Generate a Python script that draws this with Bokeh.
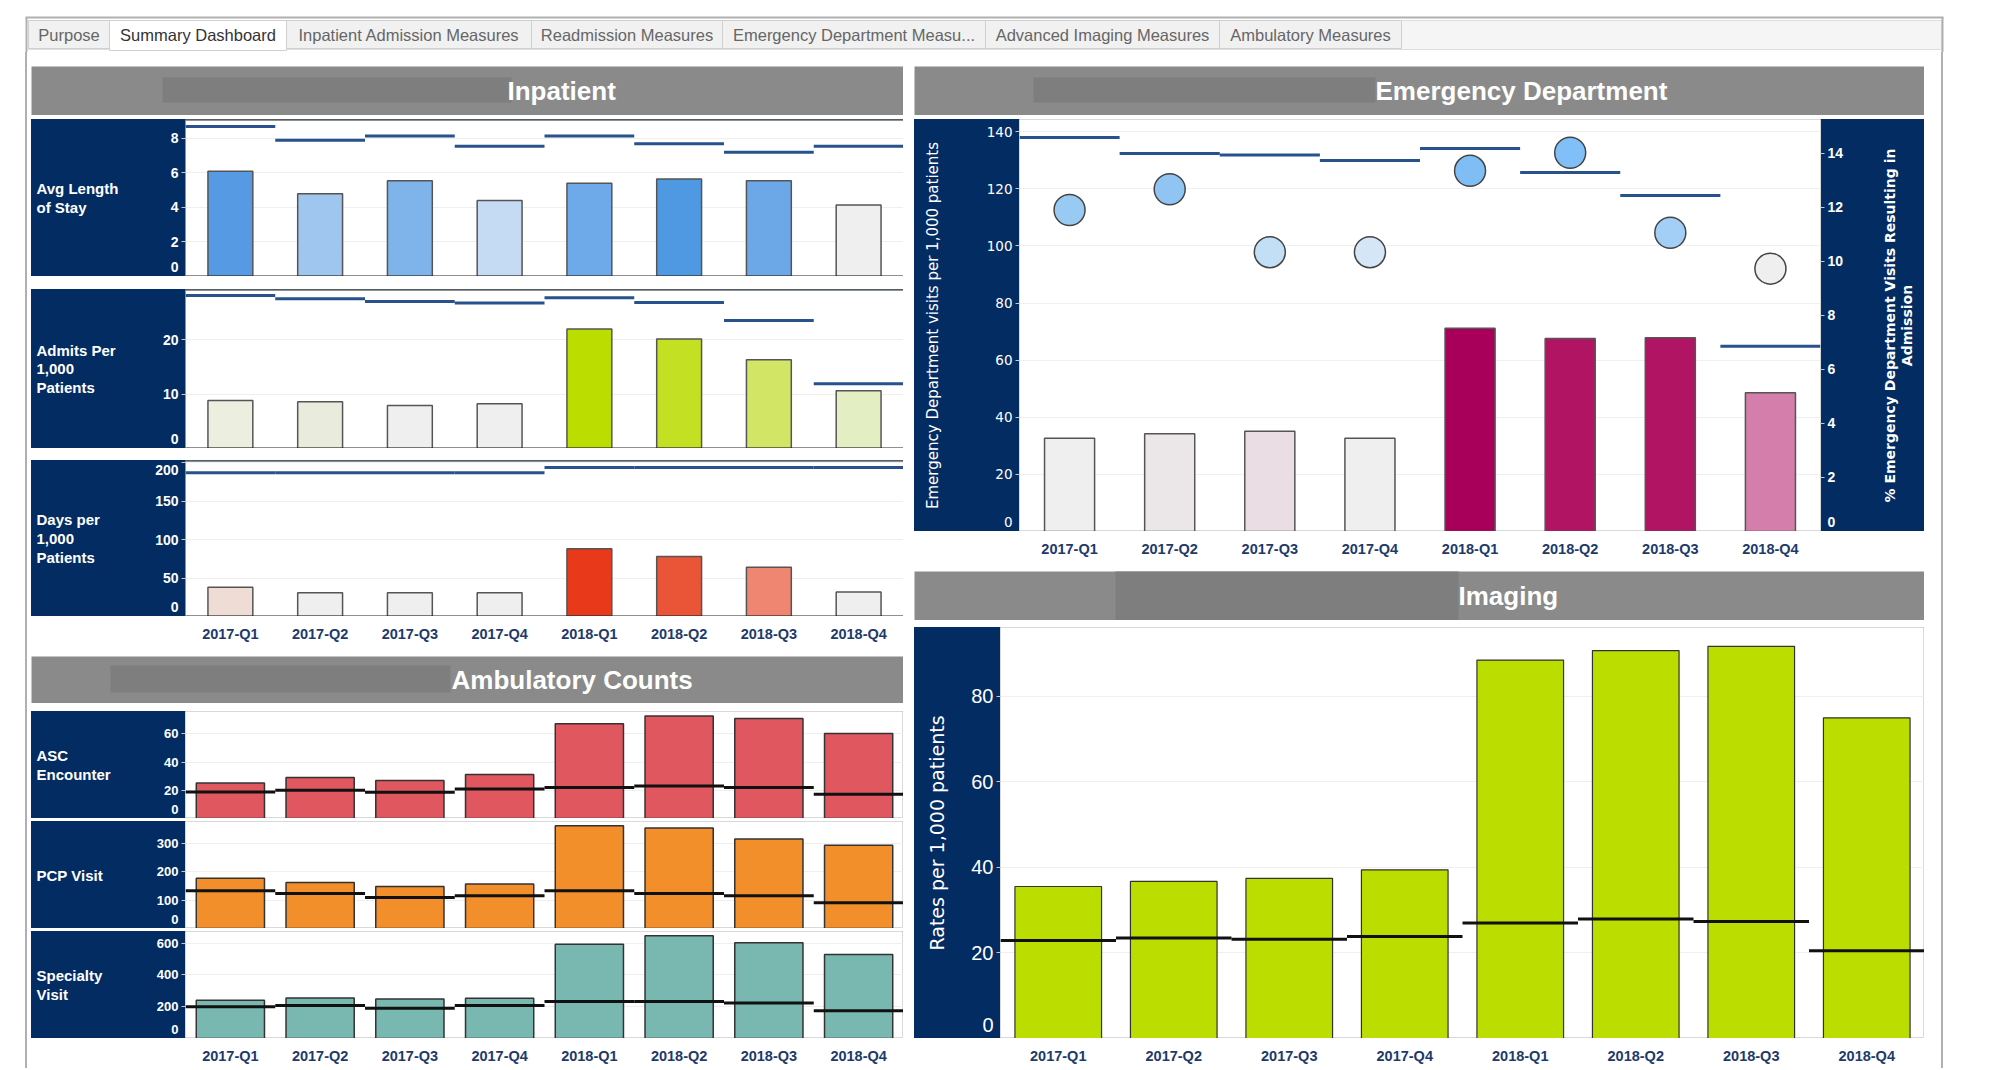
import math
from bokeh.plotting import figure
from bokeh.models import Range1d, FactorRange, LinearAxis, FixedTicker, Spacer, Span, Plot
from bokeh.layouts import column, row
from bokeh.core.properties import value
from bokeh.embed import file_html
from bokeh.resources import INLINE

# ---------------- data ----------------
QUARTERS = ["2017-Q1", "2017-Q2", "2017-Q3", "2017-Q4", "2018-Q1", "2018-Q2", "2018-Q3", "2018-Q4"]

TABS = ["Purpose", "Summary Dashboard", "Inpatient Admission Measures", "Readmission Measures",
        "Emergency Department Measu...", "Advanced Imaging Measures", "Ambulatory Measures"]
ACTIVE_TAB = 1

# Inpatient
ALOS = [6.1, 4.8, 5.55, 4.4, 5.4, 5.65, 5.55, 4.15]
ALOS_REF = [8.7, 7.9, 8.15, 7.55, 8.15, 7.7, 7.2, 7.55]
ALOS_COLORS = ["#559ae2", "#9fc6ee", "#7fb4ea", "#c4dbf3", "#6eaaea", "#4f99e2", "#6ca8e8", "#efefef"]
ALOS_TICKS = [0, 2, 4, 6, 8]

ADMITS = [8.8, 8.6, 7.9, 8.2, 21.95, 20.1, 16.3, 10.6]
ADMITS_REF = [28.1, 27.5, 27.0, 26.7, 27.7, 26.8, 23.5, 11.9]
ADMITS_COLORS = ["#eceedf", "#e9ecdc", "#efefef", "#efefef", "#bbdd00", "#c4e022", "#d3e565", "#e4eec3"]
ADMITS_TICKS = [0, 10, 20]

DAYS = [38, 31, 31, 31, 88, 78, 64, 32]
DAYS_REF = [187, 187, 187, 187, 194, 194, 194, 194]
DAYS_COLORS = ["#efdcd5", "#efefef", "#efefef", "#efefef", "#e8391b", "#ea5538", "#ef8672", "#efefef"]
DAYS_TICKS = [0, 50, 100, 150, 200]

# Emergency department
ED_VISITS = [32.7, 34.2, 35.1, 32.7, 71.2, 67.6, 67.9, 48.6]
ED_VISIT_COLORS = ["#efefef", "#ebe7e9", "#eadde4", "#efefef", "#a8005a", "#b01463", "#b01463", "#d47fab"]
ED_ADMIT_PCT = [11.9, 12.67, 10.34, 10.34, 13.35, 14.02, 11.06, 9.73]
ED_PCT_COLORS = ["#99caf4", "#8fc4f3", "#c3dff6", "#d5e7f6", "#7fbef5", "#80bff7", "#a3cff6", "#efefef"]
ED_PCT_REF = [14.58, 13.99, 13.94, 13.73, 14.18, 13.29, 12.44, 6.86]
ED_VISIT_TICKS = [0, 20, 40, 60, 80, 100, 120, 140]
ED_PCT_TICKS = [0, 2, 4, 6, 8, 10, 12, 14]
ED_LEFT_TITLE = "Emergency Department visits per 1,000 patients"
ED_RIGHT_TITLE = "% Emergency Department Visits Resulting in\nAdmission"

# Imaging
IMAGING = [35.5, 36.7, 37.4, 39.4, 88.4, 90.6, 91.6, 74.9]
IMAGING_REF = [22.9, 23.5, 23.2, 23.8, 27.0, 27.9, 27.3, 20.5]
IMAGING_TICKS = [0, 20, 40, 60, 80]
IMAGING_TITLE = "Rates per 1,000 patients"

# Ambulatory
ASC = [25.1, 29.0, 27.0, 31.2, 67.2, 72.6, 70.9, 60.2]
ASC_REF = [18.8, 20.0, 18.6, 20.9, 21.9, 23.0, 21.9, 17.2]
ASC_TICKS = [0, 20, 40, 60]
PCP = [177, 162, 148, 157, 362, 354, 315, 293]
PCP_REF = [133, 123, 109, 115, 133, 123, 115, 91]
PCP_TICKS = [0, 100, 200, 300]
SPEC = [240, 255, 249, 253, 593, 647, 603, 528]
SPEC_REF = [199, 207, 191, 207, 232, 232, 224, 174]
SPEC_TICKS = [0, 200, 400, 600]

# ---------------- style ----------------
NAVY = "#032c63"
REF_NAVY = "#27528c"
HEADER_GRAY = "#8a8a8a"
DARK_GRAY = "#7e7e7e"
XLAB = "#1d3a6a"
FONT = "Liberation Sans"
VFONT = "DejaVu Sans"
HAS_FRAME_ALIGN = "frame_align" in Plot.properties()


def base_fig(width, height, **kw):
    opts = dict(width=width, height=height, toolbar_location=None, output_backend="svg",
                min_border_left=0, min_border_right=0, min_border_top=0, min_border_bottom=0,
                outline_line_color=None)
    if HAS_FRAME_ALIGN:
        opts["frame_align"] = False
    opts.update(kw)
    return figure(**opts)


def style_yaxis(ax, ticks, font, size, bold, standoff=3, lift_zero=True, drop_top=None):
    ax.ticker = FixedTicker(ticks=ticks)
    ax.axis_line_color = None
    ax.major_tick_line_color = "#c8c8c8"
    ax.major_tick_out = 4
    ax.major_tick_in = 0
    ax.minor_tick_line_color = None
    ax.major_label_text_color = "white"
    ax.major_label_text_font = font
    ax.major_label_text_font_size = size
    ax.major_label_text_font_style = "bold" if bold else "normal"
    ax.major_label_text_line_height = 0.12
    ax.major_label_standoff = standoff
    overrides = {}
    if lift_zero:
        overrides[0] = "0\n"
    if drop_top is not None:
        overrides[drop_top] = "\n" + str(drop_top)
    ax.major_label_overrides = overrides


def header(width, height, title, dark, title_x):
    p = base_fig(width, height, x_range=Range1d(0, width), y_range=Range1d(height, 0),
                 x_axis_location=None, y_axis_location=None,
                 background_fill_color=HEADER_GRAY, border_fill_color=HEADER_GRAY)
    p.grid.visible = False
    p.quad(left=[dark[0]], right=[dark[1]], top=[dark[2]], bottom=[dark[3]],
           fill_color=DARK_GRAY, line_color=None)
    p.text(x=[title_x], y=[height / 2], text=[title], text_font=value(FONT),
           text_font_style="bold", text_font_size="26px", text_color="white",
           text_baseline="middle", text_align="left")
    return p


def label_fig(label, width, height, x, font, size, style, angle=0.0, align="left"):
    p = base_fig(width, height, x_range=Range1d(0, width), y_range=Range1d(0, height),
                 x_axis_location=None, y_axis_location=None,
                 background_fill_color=NAVY, border_fill_color=NAVY)
    p.grid.visible = False
    p.text(x=[x], y=[height / 2], text=[label], text_font=value(font), text_font_style=style,
           text_font_size=size, text_color="white", text_baseline="middle", text_align=align,
           text_line_height=1.1, angle=angle)
    return p


def panel(label, vals, refs, colors, ymax, ticks, height, bar_w, ref_color, bar_line,
          tick_size, black_frame, outline, drop_top=None):
    lbl = label_fig(label, 100, height, 5, FONT, "15px", "bold")
    p = base_fig(772, height, x_range=FactorRange(*QUARTERS), y_range=Range1d(0, ymax),
                 x_axis_location=None, min_border_left=54, border_fill_color=NAVY,
                 background_fill_color="white", outline_line_color=outline)
    p.xgrid.visible = False
    p.ygrid.grid_line_color = "#efefef"
    p.vbar(x=QUARTERS, top=vals, width=bar_w, fill_color=colors, line_color=bar_line, line_width=1.5)
    p.rect(x=QUARTERS, y=refs, width=1.0, height=3, height_units="screen",
           fill_color=ref_color, line_color=None)
    if black_frame:
        p.add_layout(Span(location=0, dimension="width", line_color="#222222", line_width=2))
        p.add_layout(Span(location=ymax, dimension="width", line_color="#222222", line_width=2))
    style_yaxis(p.yaxis[0], ticks, FONT, tick_size, True, drop_top=drop_top)
    return row(lbl, p, styles={"background-color": NAVY}), p


def xaxis_fig(x_range, width, left, right, height):
    p = base_fig(width, height, x_range=x_range, y_range=Range1d(0, 1),
                 min_border_left=left, min_border_right=right, min_border_top=25,
                 x_axis_location="above", y_axis_location=None,
                 background_fill_color="white", border_fill_color="white")
    p.grid.visible = False
    ax = p.xaxis[0]
    ax.axis_line_color = None
    ax.major_tick_line_color = None
    ax.major_tick_out = 0
    ax.major_tick_in = 0
    ax.major_label_standoff = 0
    ax.major_label_text_color = XLAB
    ax.major_label_text_font = FONT
    ax.major_label_text_font_style = "bold"
    ax.major_label_text_font_size = "14.5px"
    return p


def vline(h):
    return Spacer(width=2, height=h, styles={"background-color": "#b0b0b0"})


# ---------------- tabs ----------------
TAB_EDGES = [28, 109, 286, 531, 722, 985, 1219, 1401]
tabs = base_fig(1945, 52, x_range=Range1d(0, 1945), y_range=Range1d(52, 0),
                x_axis_location=None, y_axis_location=None,
                background_fill_color="white", border_fill_color="white")
tabs.grid.visible = False
tabs.quad(left=[28], right=[1941], top=[20], bottom=[49], fill_color="#f5f5f5", line_color="#dedede")
tabs.segment(x0=[25, 26, 1942], y0=[17, 17, 17], x1=[1943, 26, 1942], y1=[17, 52, 52],
             line_color="#b0b0b0", line_width=2)
tab_fill = ["white" if i == ACTIVE_TAB else "#f1f1f1" for i in range(len(TABS))]
tab_bottom = [50 if i == ACTIVE_TAB else 48 for i in range(len(TABS))]
tabs.quad(left=TAB_EDGES[:-1], right=TAB_EDGES[1:], top=[20] * len(TABS), bottom=tab_bottom,
          fill_color=tab_fill, line_color="#d0d0d0")
tab_cx = [(a + b) / 2 for a, b in zip(TAB_EDGES[:-1], TAB_EDGES[1:])]
tab_col = ["#333333" if i == ACTIVE_TAB else "#666666" for i in range(len(TABS))]
tabs.text(x=tab_cx, y=[34] * len(TABS), text=TABS, text_font=value(FONT), text_font_size="16.5px",
          text_color=tab_col, text_align="center", text_baseline="middle")

# ---------------- left column ----------------
inp_header = header(872, 49, "Inpatient", (131, 480, 11, 36), 476)
r_alos, p_alos = panel("Avg Length\nof Stay", ALOS, ALOS_REF, ALOS_COLORS, 9.1, ALOS_TICKS, 157,
                       0.5, REF_NAVY, "#555555", "14px", True, None)
r_adm, p_adm = panel("Admits Per\n1,000\nPatients", ADMITS, ADMITS_REF, ADMITS_COLORS, 29.2,
                     ADMITS_TICKS, 159, 0.5, REF_NAVY, "#555555", "14px", True, None)
r_days, p_days = panel("Days per\n1,000\nPatients", DAYS, DAYS_REF, DAYS_COLORS, 203, DAYS_TICKS,
                       156, 0.5, REF_NAVY, "#555555", "14px", True, None, drop_top=200)
x_inp = xaxis_fig(p_days.x_range, 718, 0, 0, 29)

amb_header = header(872, 47, "Ambulatory Counts", (79, 419, 9, 36), 420)
r_asc, p_asc = panel("ASC\nEncounter", ASC, ASC_REF, ["#e05760"] * 8, 75.8, ASC_TICKS, 107,
                     0.76, "#111111", "#333333", "13px", False, "#d9d9d9")
r_pcp, p_pcp = panel("PCP Visit", PCP, PCP_REF, ["#f28f2a"] * 8, 377, PCP_TICKS, 107,
                     0.76, "#111111", "#333333", "13px", False, "#d9d9d9")
r_spec, p_spec = panel("Specialty\nVisit", SPEC, SPEC_REF, ["#79b8b1"] * 8, 673, SPEC_TICKS, 107,
                       0.76, "#111111", "#333333", "13px", False, "#d9d9d9")
x_amb = xaxis_fig(p_spec.x_range, 718, 0, 0, 30)

left_col = column(
    Spacer(height=14), inp_header, Spacer(height=4), r_alos, Spacer(height=13), r_adm,
    Spacer(height=12), r_days, row(Spacer(width=154, height=29), x_inp), Spacer(height=11),
    amb_header, Spacer(height=8), r_asc, Spacer(height=3), r_pcp, Spacer(height=3), r_spec,
    row(Spacer(width=154, height=30), x_amb),
)

# ---------------- right column ----------------
ed_header = header(1010, 49, "Emergency Department", (119, 461, 11, 36), 461)

ed = base_fig(896, 412, x_range=FactorRange(*QUARTERS), y_range=Range1d(0, 144.3),
              x_axis_location=None, min_border_left=55, min_border_right=40,
              border_fill_color=NAVY, background_fill_color="white", outline_line_color="#d9d9d9")
ed.extra_y_ranges = {"pct": Range1d(0, 15.25)}
ed.xgrid.visible = False
ed.ygrid.grid_line_color = "#efefef"
ed.vbar(x=QUARTERS, top=ED_VISITS, width=0.5, fill_color=ED_VISIT_COLORS, line_color="#555555",
        line_width=1.5)
ed.rect(x=QUARTERS, y=ED_PCT_REF, width=1.0, height=3, height_units="screen",
        fill_color=REF_NAVY, line_color=None, y_range_name="pct")
ed.scatter(x=QUARTERS, y=ED_ADMIT_PCT, size=31, fill_color=ED_PCT_COLORS, line_color="#444444",
           line_width=1.5, y_range_name="pct")
style_yaxis(ed.yaxis[0], ED_VISIT_TICKS, VFONT, "13.5px", False)
axr = LinearAxis(y_range_name="pct")
style_yaxis(axr, ED_PCT_TICKS, FONT, "14px", True)
ed.add_layout(axr, "right")
ed_lab_l = label_fig(ED_LEFT_TITLE, 50, 412, 18, VFONT, "15px", "normal", angle=math.pi / 2,
                     align="center")
ed_lab_r = label_fig(ED_RIGHT_TITLE, 64, 412, 38, VFONT, "14px", "bold", angle=math.pi / 2,
                     align="center")
ed_row = row(ed_lab_l, ed, ed_lab_r, styles={"background-color": NAVY})
x_ed = xaxis_fig(ed.x_range, 1010, 105, 104, 29)

img_header = header(1010, 49, "Imaging", (201, 544, -6, 49), 544)
img = base_fig(965, 411, x_range=FactorRange(*QUARTERS), y_range=Range1d(0, 96),
               x_axis_location=None, min_border_left=41, border_fill_color=NAVY,
               background_fill_color="white", outline_line_color="#d9d9d9")
img.xgrid.visible = False
img.ygrid.grid_line_color = "#efefef"
img.vbar(x=QUARTERS, top=IMAGING, width=0.75, fill_color="#bbdd00", line_color="#333333",
         line_width=1.2)
img.rect(x=QUARTERS, y=IMAGING_REF, width=1.0, height=3, height_units="screen",
         fill_color="#111111", line_color=None)
style_yaxis(img.yaxis[0], IMAGING_TICKS, FONT, "20px", False)
img_lab = label_fig(IMAGING_TITLE, 45, 411, 22, VFONT, "19px", "normal", angle=math.pi / 2,
                    align="center")
img_row = row(img_lab, img, styles={"background-color": NAVY})
x_img = xaxis_fig(img.x_range, 1010, 86, 0, 30)

right_col = column(
    Spacer(height=14), ed_header, Spacer(height=4), ed_row, x_ed, Spacer(height=11),
    img_header, Spacer(height=7), img_row, x_img,
)

body = row(Spacer(width=25, height=1016), vline(1016), Spacer(width=4, height=1016), left_col,
           Spacer(width=11, height=1016), right_col, Spacer(width=17, height=1016), vline(1016))

root = column(tabs, body)

with open("out.html", "w") as f:
    f.write(file_html(root, INLINE, title="Summary Dashboard"))
